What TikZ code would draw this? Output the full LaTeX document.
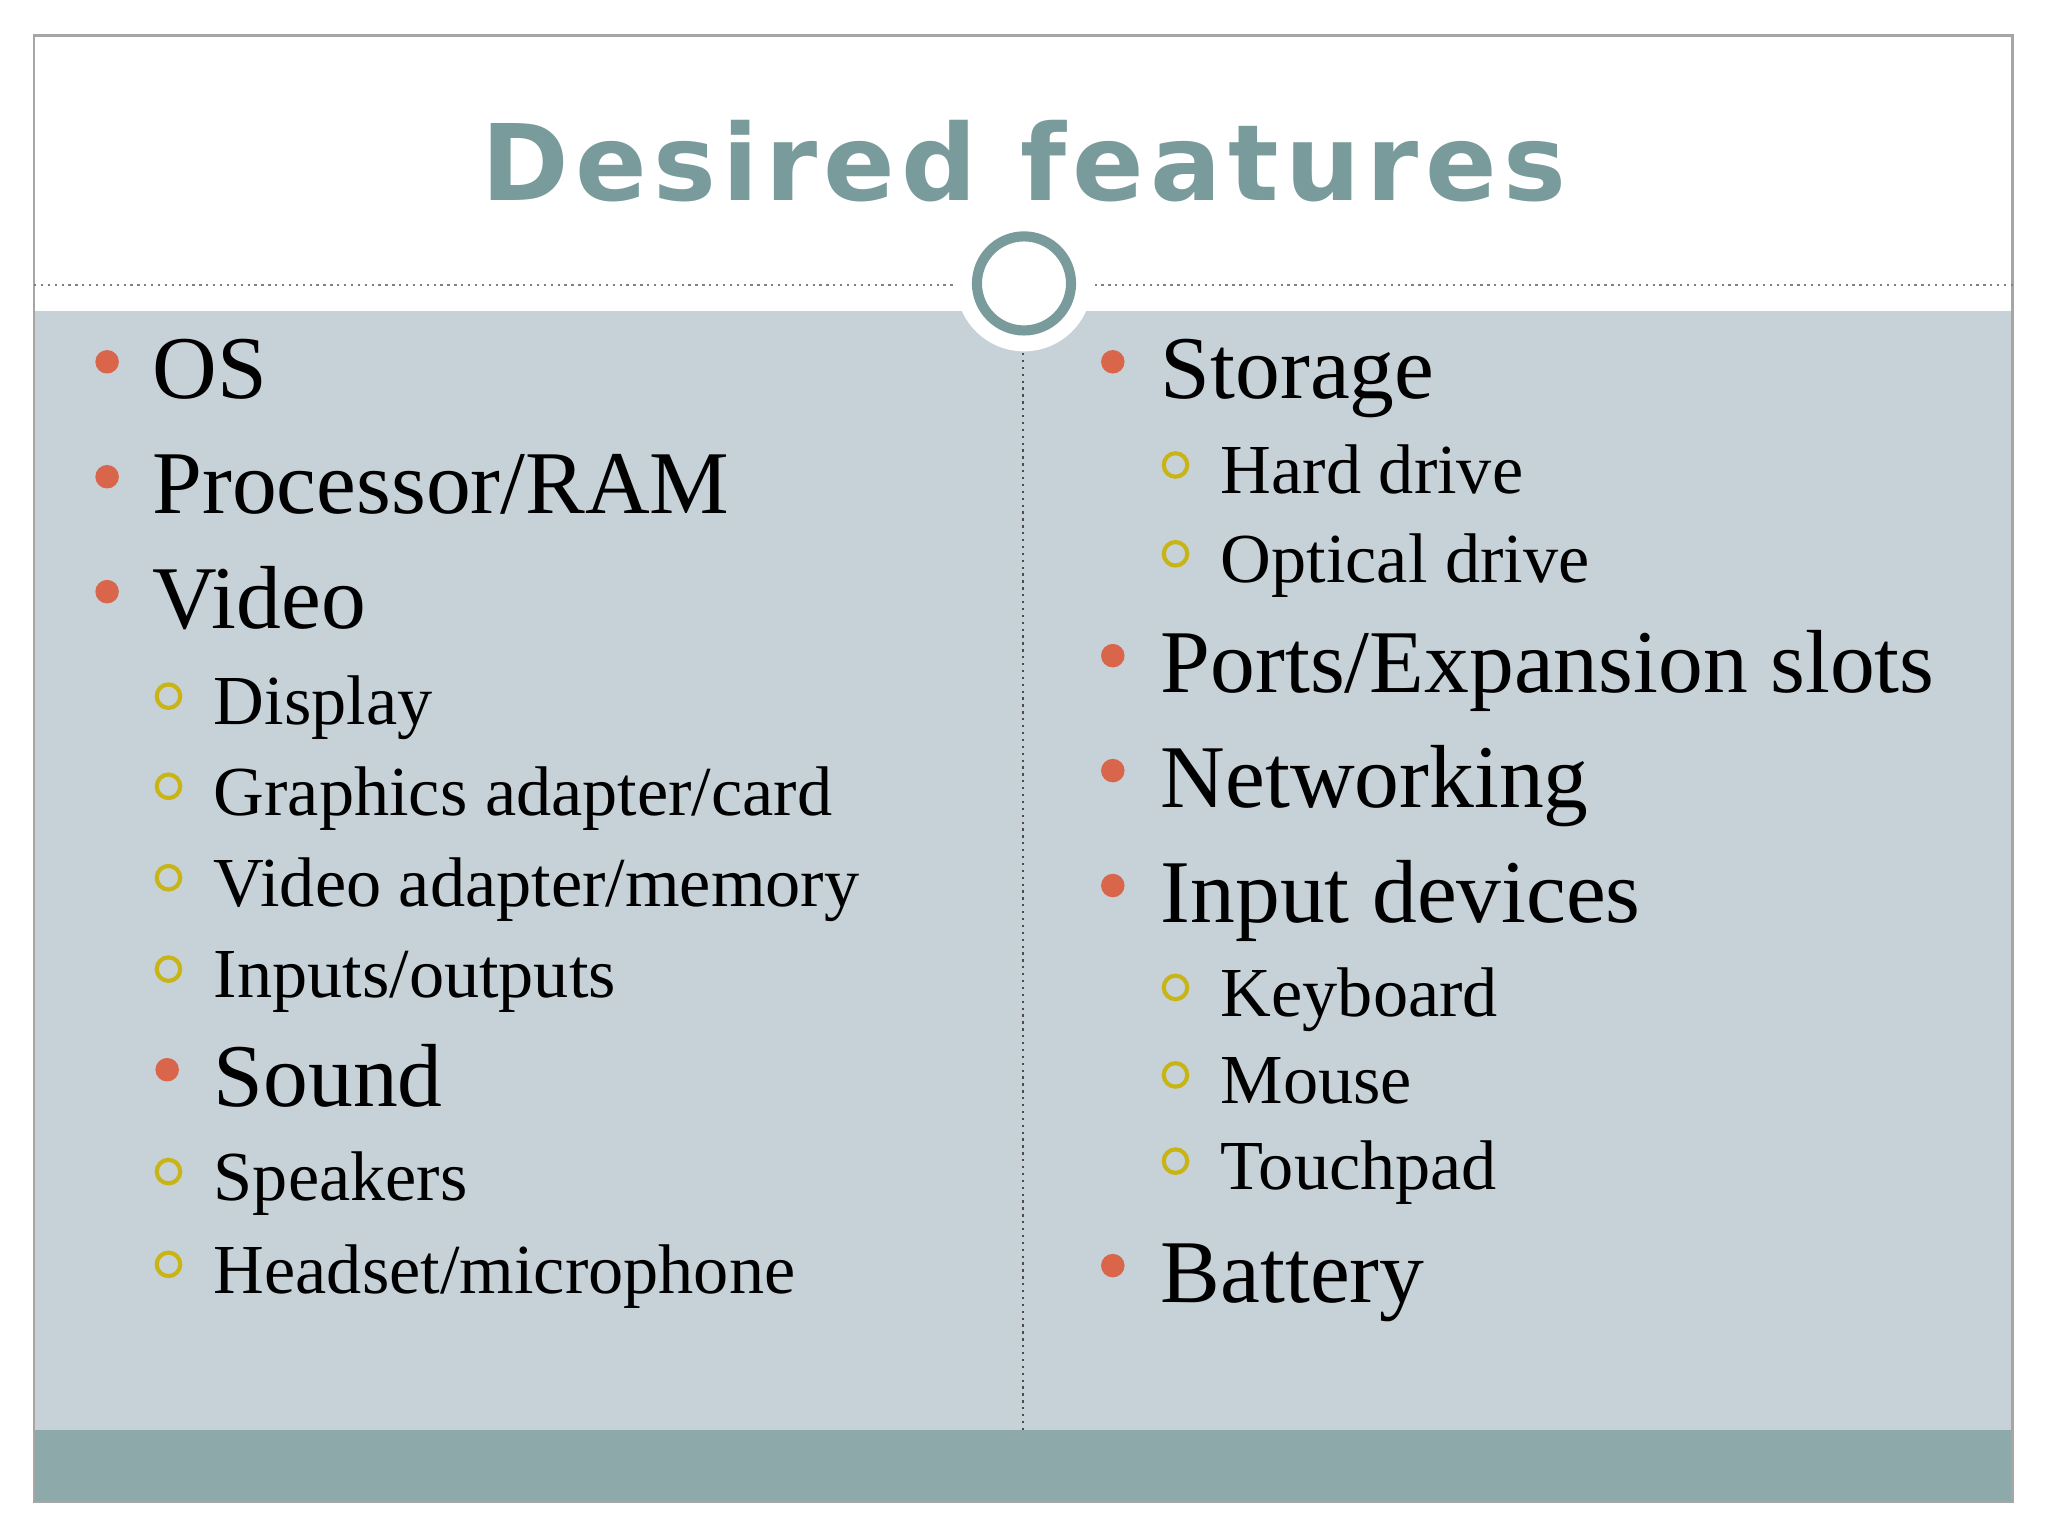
\documentclass[tikz,border=0pt]{standalone}
\usepackage{fontspec}
\setmainfont{Liberation Serif}
\newfontfamily\titlefont[LetterSpace=6]{DejaVu Sans}
\begin{document}
\definecolor{bgc}{HTML}{C6D2D7}
\definecolor{band}{HTML}{8EA9AA}
\definecolor{teal}{HTML}{7A9B9B}
\definecolor{bul}{HTML}{D9664A}
\definecolor{sub}{HTML}{C8B414}
\begin{tikzpicture}[x=0.01cm,y=-0.01cm,
  big/.style={anchor=base west,inner sep=0,font=\fontsize{19.5}{23}\selectfont},
  small/.style={anchor=base west,inner sep=0,font=\fontsize{15.3}{18}\selectfont},
  dot/.style={circle,fill=bul,inner sep=0,minimum size=0.18cm},
  ring/.style={circle,draw=sub,line width=0.9pt,inner sep=0,minimum size=0.18cm}]
\useasboundingbox (0,0) rectangle (1568,1176);
\fill[white] (0,0) rectangle (1568,1176);
\fill[bgc] (26,238) rectangle (1541,1095);
\fill[band] (26,1095) rectangle (1541,1150);
\draw[gray!70,line width=0.6pt] (26,27) rectangle (1541,1150);
\draw[gray,densely dotted,line width=0.5pt] (26,218) -- (730,218);
\draw[gray,densely dotted,line width=0.5pt] (838,218) -- (1541,218);
\draw[gray!60!black,densely dotted,line width=0.5pt] (783,265) -- (783,1095);
\fill[white] (784,217) circle (52);
\node[circle,draw=teal,line width=2.2pt,fill=white,minimum size=0.72cm,inner sep=0] (c) at (784,217) {};
\node[font=\titlefont\bfseries\fontsize{23}{26}\selectfont,text=teal] (t) at (784,123) {Desired features};
% left
\node[dot] (b1) at (82,277) {}; \node[big] (l1) at (116,305) {OS};
\node[dot] (b2) at (82,365) {}; \node[big] (l2) at (116,393) {Processor/RAM};
\node[dot] (b3) at (82,453) {}; \node[big] (l3) at (116,481) {Video};
\node[ring] (r1) at (129,533) {}; \node[small] (s1) at (163,555) {Display};
\node[ring] (r2) at (129,602) {}; \node[small] (s2) at (163,624) {Graphics adapter/card};
\node[ring] (r3) at (129,672) {}; \node[small] (s3) at (163,694) {Video adapter/memory};
\node[ring] (r4) at (129,742) {}; \node[small] (s4) at (163,764) {Inputs/outputs};
\node[dot] (b4) at (128,819) {}; \node[big] (l4) at (163,847) {Sound};
\node[ring] (r5) at (129,897) {}; \node[small] (s5) at (163,919) {Speakers};
\node[ring] (r6) at (129,968) {}; \node[small] (s6) at (163,990) {Headset/microphone};
% right
\node[dot] (b5) at (852,277) {}; \node[big] (m1) at (888,305) {Storage};
\node[ring] (r7) at (900,356) {}; \node[small] (t1) at (934,378) {Hard drive};
\node[ring] (r8) at (900,424) {}; \node[small] (t2) at (934,446) {Optical drive};
\node[dot] (b6) at (852,502) {}; \node[big] (m2) at (888,530) {Ports/Expansion slots};
\node[dot] (b7) at (852,590) {}; \node[big] (m3) at (888,618) {Networking};
\node[dot] (b8) at (852,678) {}; \node[big] (m4) at (888,706) {Input devices};
\node[ring] (r9) at (900,756) {}; \node[small] (t3) at (934,778) {Keyboard};
\node[ring] (r10) at (900,823) {}; \node[small] (t4) at (934,845) {Mouse};
\node[ring] (r11) at (900,889) {}; \node[small] (t5) at (934,911) {Touchpad};
\node[dot] (b9) at (852,969) {}; \node[big] (m5) at (888,997) {Battery};
\end{tikzpicture}
\end{document}
